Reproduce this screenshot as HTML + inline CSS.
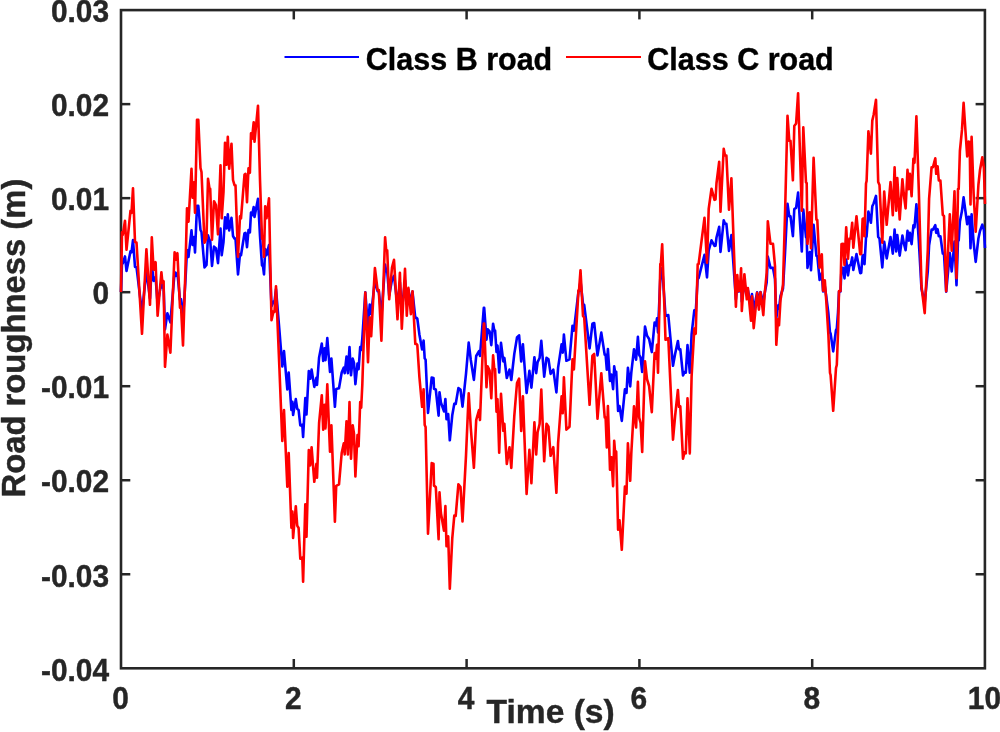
<!DOCTYPE html>
<html><head><meta charset="utf-8"><title>Road roughness</title>
<style>
html,body{margin:0;padding:0;background:#fff;}
body{width:1000px;height:732px;overflow:hidden;}
svg{display:block;}
text{font-family:"Liberation Sans",Arial,Helvetica,sans-serif;font-weight:bold;}
.tk text{fill:#262626;}
.ax line{stroke:#262626;stroke-width:2.5;}
</style></head>
<body>
<svg width="1000" height="732" viewBox="0 0 1000 732">
<rect x="0" y="0" width="1000" height="732" fill="#ffffff"/>
<g class="ax"><line x1="293.8" y1="668.3" x2="293.8" y2="659.0"/><line x1="293.8" y1="10.1" x2="293.8" y2="19.4"/><line x1="466.6" y1="668.3" x2="466.6" y2="659.0"/><line x1="466.6" y1="10.1" x2="466.6" y2="19.4"/><line x1="639.4" y1="668.3" x2="639.4" y2="659.0"/><line x1="639.4" y1="10.1" x2="639.4" y2="19.4"/><line x1="812.2" y1="668.3" x2="812.2" y2="659.0"/><line x1="812.2" y1="10.1" x2="812.2" y2="19.4"/><line x1="121" y1="104.12857142857142" x2="130.3" y2="104.12857142857142"/><line x1="984.9" y1="104.12857142857142" x2="975.6" y2="104.12857142857142"/><line x1="121" y1="198.15714285714284" x2="130.3" y2="198.15714285714284"/><line x1="984.9" y1="198.15714285714284" x2="975.6" y2="198.15714285714284"/><line x1="121" y1="292.1857142857143" x2="130.3" y2="292.1857142857143"/><line x1="984.9" y1="292.1857142857143" x2="975.6" y2="292.1857142857143"/><line x1="121" y1="386.2142857142857" x2="130.3" y2="386.2142857142857"/><line x1="984.9" y1="386.2142857142857" x2="975.6" y2="386.2142857142857"/><line x1="121" y1="480.24285714285713" x2="130.3" y2="480.24285714285713"/><line x1="984.9" y1="480.24285714285713" x2="975.6" y2="480.24285714285713"/><line x1="121" y1="574.2714285714286" x2="130.3" y2="574.2714285714286"/><line x1="984.9" y1="574.2714285714286" x2="975.6" y2="574.2714285714286"/></g>
<rect x="121" y="10.1" width="863.9" height="658.1999999999999" fill="none" stroke="#262626" stroke-width="2.6"/>
<polyline fill="none" stroke="#0000ff" stroke-width="2.6" stroke-linejoin="round" points="121.0,292.0 122.0,262.1 122.8,263.4 125.0,256.4 126.5,270.9 130.5,251.3 131.5,252.4 133.0,240.1 135.0,267.0 136.5,267.2 142.0,312.9 146.4,270.6 150.0,298.4 151.8,264.6 153.6,280.9 155.6,277.1 157.6,303.9 161.4,282.1 162.4,287.4 163.6,286.6 165.0,329.4 167.4,313.3 170.4,322.4 174.6,272.1 175.6,275.9 177.4,272.6 180.0,299.9 181.0,299.1 183.0,318.7 185.4,281.5 187.0,250.1 188.5,256.9 191.5,230.3 192.6,244.9 194.0,237.1 195.0,252.4 197.0,205.9 198.3,205.9 200.5,230.0 201.5,232.0 204.5,267.4 206.5,265.0 208.0,235.3 209.5,240.4 210.2,240.4 212.0,265.9 214.0,246.6 216.0,248.5 218.0,263.1 220.5,228.6 221.7,255.2 223.5,242.0 225.0,217.3 226.5,228.4 227.8,214.3 229.2,230.4 231.5,217.8 233.0,236.0 234.5,238.6 235.5,238.6 238.0,274.4 240.0,254.1 241.0,255.2 244.5,233.2 245.5,232.9 247.0,247.2 248.5,230.1 249.9,232.4 251.0,212.6 252.0,215.4 253.7,207.1 254.5,216.9 258.0,198.8 260.0,236.0 262.0,265.4 262.8,264.6 264.0,274.4 265.2,249.1 266.5,255.2 269.0,245.1 271.5,306.1 273.5,301.6 274.5,301.9 276.0,289.1 279.4,330.0 282.3,366.5 284.0,351.0 287.3,389.4 288.7,372.5 291.4,409.9 292.4,401.8 293.1,415.0 295.8,399.1 297.2,408.8 298.6,410.0 300.3,425.4 302.3,424.8 303.1,436.9 305.3,398.1 306.5,414.4 308.8,371.0 310.2,378.7 311.6,369.6 314.3,386.9 316.4,377.9 317.0,384.9 319.1,357.4 321.8,343.6 323.2,360.9 324.6,348.4 325.5,360.2 327.3,338.1 328.7,356.0 330.0,371.9 331.4,358.6 334.9,406.8 336.2,388.9 339.0,388.2 341.7,372.5 343.8,367.6 344.7,373.2 346.5,356.6 347.9,373.2 349.5,347.0 351.0,375.3 352.7,358.6 354.0,362.9 355.4,384.2 357.5,363.5 358.6,369.1 360.2,347.0 361.2,349.9 362.3,338.5 365.3,292.3 368.0,327.1 369.7,304.6 371.2,314.1 374.9,280.0 377.6,291.1 378.8,291.1 379.7,299.5 381.4,316.4 385.1,264.6 386.2,271.2 387.2,271.2 389.2,295.6 392.0,279.8 394.0,275.9 397.5,305.6 399.9,282.4 401.8,310.4 405.0,280.4 406.8,303.8 408.4,289.9 410.9,303.1 412.5,291.6 415.3,317.9 416.5,317.9 417.3,318.5 419.4,334.5 422.1,349.4 423.6,340.6 424.7,358.5 425.6,359.5 428.0,412.9 431.7,377.5 433.5,377.9 434.0,388.8 435.8,389.5 438.6,415.6 439.5,392.2 440.9,402.5 444.0,411.4 445.4,399.0 446.5,419.1 448.2,414.1 449.8,440.3 452.3,414.9 454.3,403.8 455.7,404.0 458.4,388.1 460.5,389.5 462.5,406.7 466.0,373.8 468.7,342.6 470.8,360.0 473.9,379.9 476.2,356.0 479.0,351.1 480.0,356.0 483.8,307.8 484.2,307.8 486.5,339.6 487.6,329.2 489.6,331.3 491.3,345.1 493.1,323.7 494.3,330.5 495.1,330.5 496.5,351.9 497.5,345.6 499.2,372.4 501.0,342.9 503.3,361.4 504.4,357.9 506.8,378.0 509.5,369.6 511.3,380.0 514.3,353.9 517.0,337.5 519.1,335.3 521.2,361.5 522.9,344.2 526.6,393.0 529.4,370.9 531.4,387.6 534.4,357.2 536.2,373.2 537.6,362.1 539.6,358.0 541.3,340.8 544.2,376.6 546.5,357.9 548.5,359.4 550.6,373.9 553.3,369.6 556.4,392.4 558.1,367.6 561.6,344.2 562.7,352.6 563.9,334.6 566.4,360.8 569.5,359.4 572.5,325.7 573.9,330.7 578.5,291.1 579.0,291.4 580.5,281.1 583.0,304.0 584.2,304.8 589.6,348.4 592.4,323.8 594.2,323.0 597.5,355.4 601.3,332.6 604.7,354.7 605.6,354.6 606.8,369.7 607.9,349.0 610.0,380.9 611.4,374.6 613.1,389.1 614.2,366.4 615.1,372.0 616.2,371.8 618.1,410.9 619.5,406.1 621.8,420.9 624.9,389.3 626.5,392.9 627.9,367.7 630.2,386.4 631.3,372.6 634.0,349.2 636.1,359.7 637.9,336.9 639.2,354.8 640.6,357.5 642.2,372.0 645.0,326.6 647.0,335.6 649.1,339.0 651.8,352.1 654.6,322.5 656.0,325.4 657.0,318.4 658.0,332.4 660.3,278.0 660.8,278.4 662.2,268.1 664.4,299.4 665.5,315.9 668.3,315.1 673.0,365.8 675.1,354.1 677.9,341.0 679.0,349.4 680.3,349.2 683.0,375.4 684.5,372.1 685.8,372.7 687.5,345.1 689.8,372.7 691.6,334.2 694.3,310.3 695.7,312.9 697.7,278.1 698.6,278.1 704.5,254.8 707.0,277.4 708.7,250.5 711.5,240.3 714.5,245.9 715.5,245.8 716.5,237.5 719.2,226.8 720.5,251.9 723.7,220.3 725.0,223.8 726.4,223.8 729.0,250.9 731.4,235.1 735.9,299.4 737.3,283.5 738.4,291.5 739.8,291.2 741.1,280.1 741.8,301.5 744.4,283.1 746.8,295.6 747.9,290.0 751.0,306.3 752.0,294.1 753.7,310.1 757.1,292.4 758.9,300.8 760.5,292.1 761.8,297.0 763.3,303.6 764.6,293.5 766.7,282.2 767.8,256.6 770.5,267.9 773.0,267.9 775.0,279.0 776.3,318.4 778.0,305.6 779.0,308.6 780.5,296.0 783.0,288.5 785.0,253.5 787.5,203.8 789.3,216.4 790.5,216.4 792.9,236.2 794.3,209.0 796.1,207.8 798.1,192.6 801.8,251.4 803.3,209.6 806.0,237.2 806.7,237.5 807.5,267.9 809.7,252.1 811.0,270.1 813.6,224.8 816.4,255.8 817.3,256.0 819.6,279.9 821.8,273.1 823.1,291.4 824.8,286.1 826.2,296.0 828.4,313.5 830.0,332.5 830.6,333.5 833.2,351.4 836.0,330.0 836.8,328.5 838.0,312.5 839.0,291.5 840.5,291.5 841.5,268.0 843.0,267.9 844.5,278.4 846.2,259.6 848.0,275.4 849.5,265.2 850.6,265.2 852.2,257.4 853.3,269.9 856.5,254.1 860.2,273.1 861.2,273.0 862.6,255.5 863.5,255.2 864.5,264.1 866.0,237.8 866.6,236.5 868.4,211.6 870.9,222.8 872.3,206.3 873.6,203.5 876.0,195.9 878.2,237.0 879.5,238.5 882.3,267.4 884.2,241.8 886.7,258.4 890.5,237.0 892.8,253.6 894.6,229.6 896.2,251.4 897.3,235.0 899.7,255.7 902.4,235.6 904.0,244.0 905.6,250.2 907.5,230.9 908.8,240.6 909.9,232.9 911.6,244.1 913.4,225.4 914.5,227.4 916.4,204.2 918.8,241.0 921.5,289.0 924.7,302.6 927.8,271.0 929.1,245.3 931.6,229.6 933.0,229.6 935.3,225.1 936.2,232.9 937.6,229.1 938.8,236.2 940.4,236.2 942.8,253.5 944.0,254.0 946.2,291.6 949.8,253.1 951.7,271.4 954.5,241.6 956.5,285.1 958.0,240.5 958.7,240.5 959.9,221.5 962.0,210.8 963.6,197.4 965.4,211.0 967.2,224.2 968.6,216.8 969.7,217.0 970.5,248.2 971.6,214.4 973.6,242.6 975.7,261.9 978.4,238.5 980.0,231.0 982.3,224.6 983.9,230.0 985.0,248.0"/>
<polyline fill="none" stroke="#ff0000" stroke-width="2.6" stroke-linejoin="round" points="121.0,292.0 122.0,232.2 122.8,234.8 125.0,220.7 126.5,249.8 130.5,210.7 131.5,212.8 133.0,188.2 135.0,242.0 136.5,242.5 142.0,333.8 146.4,249.2 150.0,304.8 151.8,237.2 153.6,269.8 155.6,262.2 157.6,315.8 161.4,272.2 162.4,282.8 163.6,281.2 165.0,366.8 167.4,334.6 170.4,352.8 174.6,252.2 175.6,259.8 177.4,253.2 180.0,307.8 181.0,306.2 183.0,345.4 185.4,271.0 187.0,208.2 188.5,221.8 191.5,168.7 192.6,197.8 194.0,182.2 195.0,212.8 197.0,119.8 198.3,119.9 200.5,168.0 201.5,172.0 204.5,242.8 206.5,238.0 208.0,178.7 209.5,188.8 210.2,188.8 212.0,239.8 214.0,201.2 216.0,205.0 218.0,234.3 220.5,165.2 221.7,218.3 223.5,192.0 225.0,142.7 226.5,164.8 227.8,136.7 229.2,168.8 231.5,143.7 233.0,180.0 234.5,185.2 235.5,185.2 238.0,256.8 240.0,216.2 241.0,218.3 244.5,174.5 245.5,173.8 247.0,202.3 248.5,168.2 249.9,172.8 251.0,133.2 252.0,138.8 253.7,122.2 254.5,141.8 258.0,105.7 260.0,180.0 262.0,238.8 262.8,237.2 264.0,256.8 265.2,206.2 266.5,218.3 269.0,198.2 271.5,320.3 273.5,311.2 274.5,311.8 276.0,286.2 279.4,368.0 282.3,441.0 284.0,410.0 287.3,486.8 288.7,453.0 291.4,527.8 292.4,511.6 293.1,538.0 295.8,506.2 297.2,525.6 298.6,528.0 300.3,558.8 302.3,557.6 303.1,581.8 305.3,504.2 306.5,536.8 308.8,450.0 310.2,465.4 311.6,447.2 314.3,481.8 316.4,463.8 317.0,477.8 319.1,422.8 321.8,395.2 323.2,429.8 324.6,404.8 325.5,428.4 327.3,384.2 328.7,420.0 330.0,451.8 331.4,425.2 334.9,521.6 336.2,485.8 339.0,484.4 341.7,453.0 343.8,443.2 344.7,454.4 346.5,421.2 347.9,454.4 349.5,402.0 351.0,458.6 352.7,425.2 354.0,433.8 355.4,476.4 357.5,435.0 358.6,446.2 360.2,402.0 361.2,407.8 362.3,385.0 365.3,292.6 368.0,362.1 369.7,317.2 371.2,336.1 374.9,268.0 377.6,290.1 378.8,290.1 379.7,307.0 381.4,340.8 385.1,237.2 386.2,250.3 387.2,250.3 389.2,299.3 392.0,267.5 394.0,259.8 397.5,319.3 399.9,272.8 401.8,328.8 405.0,268.7 406.8,315.6 408.4,287.8 410.9,314.1 412.5,291.2 415.3,343.9 416.5,343.9 417.3,345.0 419.4,377.0 422.1,406.8 423.6,389.2 424.7,425.0 425.6,427.0 428.0,533.8 431.7,463.1 433.5,463.8 434.0,485.6 435.8,487.0 438.6,539.2 439.5,492.4 440.9,513.0 444.0,530.8 445.4,506.0 446.5,546.2 448.2,536.2 449.8,588.6 452.3,537.8 454.3,515.6 455.7,516.0 458.4,484.2 460.5,487.0 462.5,521.4 466.0,455.6 468.7,393.2 470.8,428.0 473.9,467.8 476.2,420.0 479.0,410.2 480.0,420.0 483.8,323.6 484.2,323.6 486.5,387.2 487.6,366.4 489.6,370.6 491.3,398.2 493.1,355.4 494.3,369.0 495.1,369.0 496.5,411.8 497.5,399.2 499.2,452.8 501.0,393.8 503.3,430.8 504.4,423.8 506.8,464.0 509.5,447.2 511.3,468.0 514.3,415.8 517.0,383.0 519.1,378.6 521.2,431.0 522.9,396.4 526.6,494.0 529.4,449.8 531.4,483.2 534.4,422.4 536.2,454.4 537.6,432.2 539.6,424.0 541.3,389.6 544.2,461.2 546.5,423.8 548.5,426.8 550.6,455.8 553.3,447.2 556.4,492.8 558.1,443.2 561.6,396.4 562.7,413.2 563.9,377.2 566.4,429.6 569.5,426.8 572.5,359.4 573.9,369.4 578.5,290.2 579.0,290.8 580.5,270.2 583.0,316.0 584.2,317.5 589.6,404.8 592.4,355.6 594.2,354.0 597.5,418.8 601.3,373.2 604.7,417.4 605.6,417.2 606.8,447.4 607.9,406.0 610.0,469.8 611.4,457.2 613.1,486.2 614.2,440.8 615.1,452.0 616.2,451.6 618.1,529.8 619.5,520.2 621.8,549.8 624.9,486.6 626.5,493.8 627.9,443.4 630.2,480.8 631.3,453.2 634.0,406.4 636.1,427.4 637.9,381.8 639.2,417.6 640.6,423.0 642.2,452.0 645.0,361.2 647.0,379.2 649.1,386.0 651.8,412.2 654.6,353.0 656.0,358.8 657.0,344.8 658.0,372.8 660.3,264.1 660.8,264.8 662.2,244.2 664.4,306.7 665.5,339.8 668.3,338.2 673.0,439.6 675.1,416.2 677.9,390.0 679.0,406.8 680.3,406.4 683.0,458.8 684.5,452.2 685.8,453.4 687.5,398.2 689.8,453.4 691.6,376.4 694.3,328.6 695.7,333.8 697.7,264.2 698.6,264.2 704.5,217.7 707.0,262.8 708.7,209.0 711.5,188.7 714.5,199.8 715.5,199.5 716.5,183.0 719.2,161.7 720.5,211.8 723.7,148.7 725.0,155.5 726.4,155.5 729.0,209.8 731.4,178.2 735.9,306.8 737.3,275.0 738.4,291.1 739.8,290.5 741.1,268.2 741.8,311.0 744.4,274.2 746.8,299.3 747.9,288.0 751.0,320.6 752.0,296.2 753.7,328.1 757.1,292.8 758.9,309.6 760.5,292.2 761.8,302.0 763.3,315.1 764.6,295.0 766.7,272.5 767.8,221.2 770.5,243.8 773.0,243.8 775.0,266.0 776.3,344.8 778.0,319.2 779.0,325.3 780.5,300.0 783.0,285.0 785.0,215.0 787.5,115.7 789.3,140.8 790.5,140.8 792.9,180.3 794.3,126.0 796.1,123.5 798.1,93.2 801.8,210.8 803.3,127.2 806.0,182.5 806.7,183.0 807.5,243.8 809.7,212.2 811.0,248.3 813.6,157.7 816.4,219.5 817.3,220.0 819.6,267.8 821.8,254.2 823.1,290.8 824.8,280.2 826.2,300.0 828.4,335.0 830.0,373.0 830.6,375.0 833.2,410.8 836.0,368.0 836.8,365.0 838.0,333.0 839.0,291.0 840.5,291.0 841.5,244.0 843.0,243.8 844.5,264.8 846.2,227.2 848.0,258.8 849.5,238.5 850.6,238.5 852.2,222.7 853.3,247.8 856.5,216.2 860.2,254.2 861.2,254.0 862.6,219.0 863.5,218.5 864.5,236.3 866.0,183.5 866.6,181.0 868.4,131.2 870.9,153.6 872.3,120.6 873.6,115.0 876.0,99.8 878.2,182.0 879.5,185.0 882.3,242.8 884.2,191.6 886.7,224.8 890.5,182.0 892.8,215.2 894.6,167.2 896.2,210.8 897.3,178.0 899.7,219.4 902.4,179.2 904.0,196.0 905.6,208.4 907.5,169.8 908.8,189.2 909.9,173.8 911.6,196.2 913.4,158.8 914.5,162.8 916.4,116.4 918.8,190.0 921.5,286.0 924.7,313.2 927.8,250.0 929.1,198.6 931.6,167.2 933.0,167.2 935.3,158.3 936.2,173.8 937.6,166.2 938.8,180.5 940.4,180.5 942.8,215.0 944.0,216.0 946.2,291.3 949.8,214.2 951.7,250.8 954.5,191.2 956.5,278.3 958.0,189.0 958.7,189.0 959.9,151.0 962.0,129.7 963.6,102.8 965.4,130.0 967.2,156.4 968.6,141.6 969.7,142.0 970.5,204.4 971.6,136.8 973.6,193.2 975.7,231.8 978.4,185.0 980.0,170.0 982.3,157.2 983.9,168.0 985.0,204.0"/>
<g class="tk"><text transform="translate(120.5,709.3) scale(1,1.04)" text-anchor="middle" font-size="29.9" fill="#262626" stroke="#262626" stroke-width="0.4">0</text><text transform="translate(293.3,709.3) scale(1,1.04)" text-anchor="middle" font-size="29.9" fill="#262626" stroke="#262626" stroke-width="0.4">2</text><text transform="translate(466.1,709.3) scale(1,1.04)" text-anchor="middle" font-size="29.9" fill="#262626" stroke="#262626" stroke-width="0.4">4</text><text transform="translate(638.9,709.3) scale(1,1.04)" text-anchor="middle" font-size="29.9" fill="#262626" stroke="#262626" stroke-width="0.4">6</text><text transform="translate(811.7,709.3) scale(1,1.04)" text-anchor="middle" font-size="29.9" fill="#262626" stroke="#262626" stroke-width="0.4">8</text><text transform="translate(984.5,709.3) scale(1,1.04)" text-anchor="middle" font-size="29.9" fill="#262626" stroke="#262626" stroke-width="0.4">10</text><text transform="translate(109.1,22.3) scale(1,1.04)" text-anchor="end" font-size="29.9" fill="#262626" stroke="#262626" stroke-width="0.4">0.03</text><text transform="translate(109.1,116.3) scale(1,1.04)" text-anchor="end" font-size="29.9" fill="#262626" stroke="#262626" stroke-width="0.4">0.02</text><text transform="translate(109.1,210.4) scale(1,1.04)" text-anchor="end" font-size="29.9" fill="#262626" stroke="#262626" stroke-width="0.4">0.01</text><text transform="translate(109.1,304.4) scale(1,1.04)" text-anchor="end" font-size="29.9" fill="#262626" stroke="#262626" stroke-width="0.4">0</text><text transform="translate(109.1,398.4) scale(1,1.04)" text-anchor="end" font-size="29.9" fill="#262626" stroke="#262626" stroke-width="0.4">-0.01</text><text transform="translate(109.1,492.4) scale(1,1.04)" text-anchor="end" font-size="29.9" fill="#262626" stroke="#262626" stroke-width="0.4">-0.02</text><text transform="translate(109.1,586.5) scale(1,1.04)" text-anchor="end" font-size="29.9" fill="#262626" stroke="#262626" stroke-width="0.4">-0.03</text><text transform="translate(109.1,680.5) scale(1,1.04)" text-anchor="end" font-size="29.9" fill="#262626" stroke="#262626" stroke-width="0.4">-0.04</text></g>
<text transform="translate(550.6,723.2) scale(1,1.0)" text-anchor="middle" font-size="33.6" fill="#262626" stroke="#262626" stroke-width="0.4">Time (s)</text>
<text transform="translate(25.2,338.1) rotate(-90) scale(1,1.0)" text-anchor="middle" font-size="32.8" fill="#262626" stroke="#262626" stroke-width="0.4">Road roughness (m)</text>
<line x1="284.5" y1="57" x2="359" y2="57" stroke="#0000ff" stroke-width="2.2"/>
<text transform="translate(365.8,69.6) scale(1,1.04)" text-anchor="start" font-size="30.5" fill="#000" stroke="#000" stroke-width="0.4">Class B road</text>
<line x1="566" y1="57" x2="641" y2="57" stroke="#ff0000" stroke-width="2.2"/>
<text transform="translate(647.3,69.6) scale(1,1.04)" text-anchor="start" font-size="30.5" fill="#000" stroke="#000" stroke-width="0.4">Class C road</text>
</svg>
</body></html>
